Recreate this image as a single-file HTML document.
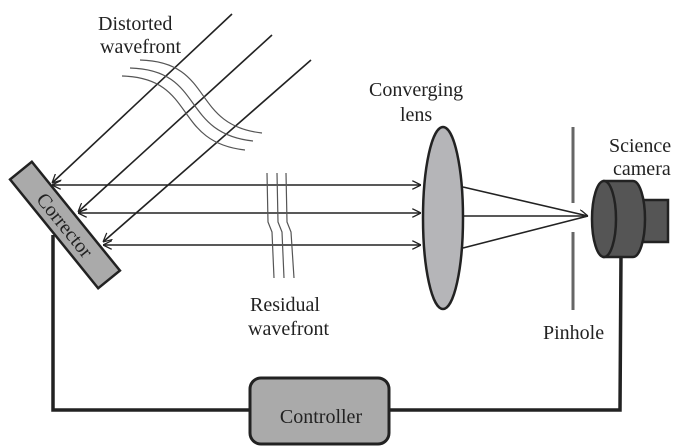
<!DOCTYPE html>
<html><head><meta charset="utf-8"><style>
html,body{margin:0;padding:0;background:#fff}
svg{display:block}
text{font-family:"Liberation Serif",serif;fill:#222}
</style></head><body>
<svg width="685" height="447" viewBox="0 0 685 447">
<defs>
<marker id="a" viewBox="0 0 10 10" refX="10" refY="5" markerWidth="9" markerHeight="9" orient="auto-start-reverse" markerUnits="userSpaceOnUse"><path d="M0,0 L10,5 L0,10" fill="none" stroke="#222" stroke-width="1.4"/></marker>
</defs>
<!-- wires -->
<polyline points="53,235 53,410 250,410" fill="none" stroke="#222" stroke-width="3.5"/>
<polyline points="388,410 620,410 621,255" fill="none" stroke="#222" stroke-width="3.5"/>
<!-- incoming rays -->
<g stroke="#222" stroke-width="1.6" fill="none">
<line x1="232" y1="14" x2="52" y2="183" marker-end="url(#a)"/>
<line x1="272" y1="35" x2="78" y2="212" marker-end="url(#a)"/>
<line x1="311" y1="60" x2="103" y2="242" marker-end="url(#a)"/>
<line x1="52" y1="185" x2="421" y2="185" marker-start="url(#a)" marker-end="url(#a)"/>
<line x1="78" y1="213" x2="421" y2="213" marker-start="url(#a)" marker-end="url(#a)"/>
<line x1="103" y1="245" x2="421" y2="245" marker-start="url(#a)" marker-end="url(#a)"/>
</g>
<!-- wavefronts -->
<g stroke="#555" stroke-width="1.2" fill="none">
<path d="M140,60 C215,62 190,125 262,133"/>
<path d="M130,68 C205,70 180,133 253,141"/>
<path d="M122,76 C197,78 172,142 245,150"/>
<path d="M267,173 L268,222 L272,232 L274,278"/>
<path d="M277,173 L278,222 L282,232 L284,278"/>
<path d="M286,173 L287,222 L291,232 L294,278"/>
</g>
<!-- corrector -->
<g transform="translate(65,225) rotate(51)">
<rect x="-70" y="-14" width="140" height="28" fill="#aaa" stroke="#222" stroke-width="2.5"/>
<text x="0" y="7" font-size="20" text-anchor="middle">Corrector</text>
</g>
<!-- lens -->
<ellipse cx="443" cy="218" rx="20" ry="91" fill="#b5b5b8" stroke="#222" stroke-width="2.5"/>
<g stroke="#222" stroke-width="1.6">
<line x1="463" y1="187" x2="588" y2="216" marker-end="url(#a)"/>
<line x1="463" y1="216" x2="588" y2="216"/>
<line x1="463" y1="248" x2="588" y2="216"/>
</g>
<!-- pinhole -->
<line x1="573" y1="127" x2="573" y2="203" stroke="#666" stroke-width="3"/>
<line x1="573" y1="232" x2="573" y2="310" stroke="#666" stroke-width="3"/>
<!-- camera -->
<rect x="643" y="200" width="25" height="42" fill="#555" stroke="#222" stroke-width="2.5"/>
<path d="M604,181 L633,181 A12,38 0 0 1 633,257 L604,257 Z" fill="#555" stroke="#222" stroke-width="2.5"/>
<ellipse cx="604" cy="219" rx="12" ry="38" fill="#555" stroke="#222" stroke-width="2.5"/>
<!-- controller -->
<rect x="250" y="378" width="139" height="66" rx="11" fill="#aaa" stroke="#222" stroke-width="3"/>
<text x="321" y="423" font-size="20" text-anchor="middle">Controller</text>
<!-- labels -->
<g font-size="20">
<text x="98" y="30">Distorted</text>
<text x="100" y="53">wavefront</text>
<text x="369" y="96">Converging</text>
<text x="400" y="121">lens</text>
<text x="609" y="152">Science</text>
<text x="613" y="175">camera</text>
<text x="250" y="311">Residual</text>
<text x="248" y="335">wavefront</text>
<text x="543" y="339">Pinhole</text>
</g>
</svg>
</body></html>
